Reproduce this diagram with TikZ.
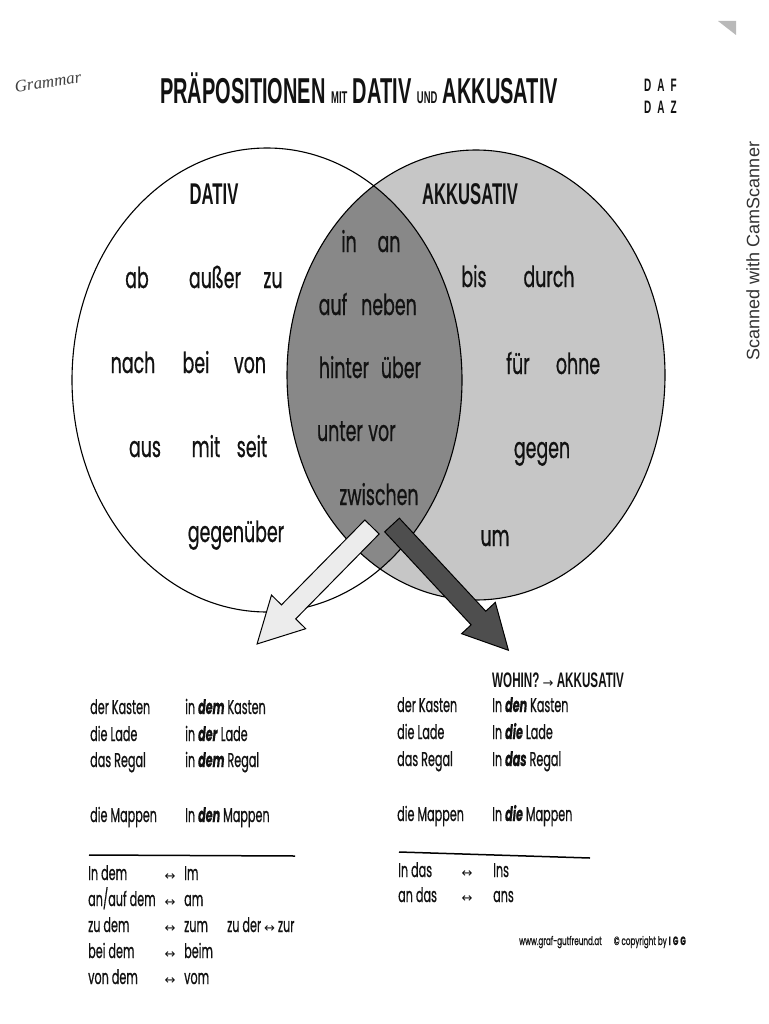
\documentclass[tikz,border=0pt]{standalone}
\usepackage{fontspec}
\setmainfont{Poppins}[FakeStretch=0.6, FakeBold=0.6]
\newfontfamily\tabfont{Poppins}[FakeStretch=0.56, FakeBold=0.6]
\newfontfamily\titlefont{Liberation Sans Bold}[FakeStretch=0.555]
\newfontfamily\symfont{DejaVu Sans}
\newfontfamily\scanfont{Liberation Sans}
\newfontfamily\handfont{Liberation Serif}
\definecolor{accfill}{RGB}{198,198,198}
\definecolor{bothfill}{RGB}{136,136,136}
\definecolor{lightarr}{RGB}{236,236,236}
\definecolor{darkarr}{RGB}{78,78,78}
\definecolor{ink}{RGB}{18,18,18}
\begin{document}
\begin{tikzpicture}[x=1pt,y=-1pt,
  word/.style={font=\fontsize{29}{32}\selectfont, inner sep=0pt, anchor=base, text=ink},
  vhead/.style={font=\titlefont\fontsize{30}{34}\selectfont, inner sep=0pt, anchor=base, text=ink},
  tab/.style={font=\tabfont\fontsize{20}{23}\selectfont, inner sep=0pt, anchor=base west, text=ink},
  sym/.style={font=\symfont\fontsize{13}{15}\selectfont, inner sep=0pt, anchor=base, text=ink},
  venn/.style={line width=1.1pt, draw=black},
  blockarrow/.style={draw=black, line width=1pt, line join=miter}
]
\useasboundingbox (0,0) rectangle (768,1024);
\fill[white] (0,0) rectangle (768,1024);
\fill[gray!55] (718,21) -- (736,21) -- (736,35) -- cycle;

% handwriting
\node[font=\handfont\itshape\fontsize{17}{20}\selectfont, text=black!75, rotate=8, inner sep=0pt] (hand) at (48,82) {Grammar};

% title
\node[font=\titlefont\fontsize{36}{40}\selectfont, inner sep=0pt, anchor=base west, text=ink] (title) at (160,104)
 {PRÄPOSITIONEN {\fontsize{17}{20}\selectfont MIT} DATIV {\fontsize{17}{20}\selectfont UND} AKKUSATIV};
\node[font=\titlefont\fontsize{18}{20}\selectfont, inner sep=0pt, anchor=base west, text=ink] (daf) at (644,92) {D\,\,A\,\,F};
\node[font=\titlefont\fontsize{18}{20}\selectfont, inner sep=0pt, anchor=base west, text=ink] (daz) at (644,114) {D\,\,A\,\,Z};

% scanner mark
\node[font=\scanfont\fontsize{18}{20}\selectfont, text=black!80, rotate=90, inner sep=0pt] (scan) at (753,251) {Scanned with CamScanner};

% Venn
\coordinate (dc) at (267,380);
\coordinate (ac) at (476,375);
\fill[accfill] (ac) ellipse [x radius=189, y radius=225];
\begin{scope}
  \clip (dc) ellipse [x radius=195, y radius=232];
  \fill[bothfill] (ac) ellipse [x radius=189, y radius=225];
\end{scope}
\draw[venn] (dc) ellipse [x radius=195, y radius=232];
\draw[venn] (ac) ellipse [x radius=189, y radius=225];

\node[vhead] (hdat) at (214,205) {DATIV};
\node[vhead] (hakk) at (470,205) {AKKUSATIV};

% Dativ words
\node[word] (ab) at (137,288) {ab};
\node[word] (ausser) at (215,288) {außer};
\node[word] (zu) at (273,288) {zu};
\node[word] (nach) at (133,373) {nach};
\node[word] (bei) at (196,373) {bei};
\node[word] (von) at (250,373) {von};
\node[word] (aus) at (145,457) {aus};
\node[word] (mit) at (206,457) {mit};
\node[word] (seit) at (252,457) {seit};
\node[word] (gegenueber) at (236,542) {gegenüber};

% both
\node[word] (in) at (349,252) {in};
\node[word] (an) at (389,252) {an};
\node[word] (auf) at (333,315) {auf};
\node[word] (neben) at (389,315) {neben};
\node[word] (hinter) at (344,378) {hinter};
\node[word] (ueber) at (401,378) {über};
\node[word] (unter) at (340,441) {unter};
\node[word] (vor) at (382,441) {vor};
\node[word] (zwischen) at (379,505) {zwischen};

% Akkusativ words
\node[word] (bis) at (474,287) {bis};
\node[word] (durch) at (549,287) {durch};
\node[word] (fuer) at (518,374) {für};
\node[word] (ohne) at (578,374) {ohne};
\node[word] (gegen) at (542,458) {gegen};
\node[word] (um) at (495,546) {um};

% block arrows
\coordinate (lightstart) at (372,527);
\coordinate (darkstart) at (392,525);
\begin{scope}[shift={(lightstart)}, rotate=225.5]
  \filldraw[blockarrow, fill=lightarr] (0,-10) -- (119,-10) -- (119,-24) -- (164,0) -- (119,24) -- (119,10) -- (0,10) -- cycle;
\end{scope}
\begin{scope}[shift={(darkstart)}, rotate=-47.1]
  \filldraw[blockarrow, fill=darkarr] (0,-10) -- (127,-10) -- (127,-23) -- (171,0) -- (127,23) -- (127,10) -- (0,10) -- cycle;
\end{scope}

% left table (Dativ)
\node[tab] (l1a) at (90,714) {der Kasten};
\node[tab] (l1b) at (185,714) {in \textbf{\textit{dem}} Kasten};
\node[tab] (l2a) at (90,741) {die Lade};
\node[tab] (l2b) at (185,741) {in \textbf{\textit{der}} Lade};
\node[tab] (l3a) at (90,767) {das Regal};
\node[tab] (l3b) at (185,767) {in \textbf{\textit{dem}} Regal};
\node[tab] (l4a) at (90,822) {die Mappen};
\node[tab] (l4b) at (185,822) {In \textbf{\textit{den}} Mappen};

% right table (Akkusativ)
\node[font=\titlefont\fontsize{21}{24}\selectfont, inner sep=0pt, anchor=base west, text=ink] (wohin) at (492,687)
  {WOHIN? {\symfont\fontsize{13}{15}\selectfont →} AKKUSATIV};
\node[tab] (r1a) at (397,712) {der Kasten};
\node[tab] (r1b) at (492,712) {In \textbf{\textit{den}} Kasten};
\node[tab] (r2a) at (397,739) {die Lade};
\node[tab] (r2b) at (492,739) {In \textbf{\textit{die}} Lade};
\node[tab] (r3a) at (397,766) {das Regal};
\node[tab] (r3b) at (492,766) {In \textbf{\textit{das}} Regal};
\node[tab] (r4a) at (397,821) {die Mappen};
\node[tab] (r4b) at (492,821) {In \textbf{\textit{die}} Mappen};

% rules
\coordinate (lrule1) at (89,855);
\coordinate (lrule2) at (295,856);
\coordinate (rrule1) at (399,852);
\coordinate (rrule2) at (590,858);
\draw[line width=1.5pt] (lrule1) -- (lrule2);
\draw[line width=1.5pt] (rrule1) -- (rrule2);

% contractions left
\node[tab] (c1a) at (88,880) {In dem};
\node[sym] (c1s) at (170,880) {↔};
\node[tab] (c1b) at (184,880) {Im};
\node[tab] (c2a) at (88,906) {an/auf dem};
\node[sym] (c2s) at (170,906) {↔};
\node[tab] (c2b) at (184,906) {am};
\node[tab] (c3a) at (88,932) {zu dem};
\node[sym] (c3s) at (170,932) {↔};
\node[tab] (c3b) at (184,932) {zum};
\node[tab] (c3c) at (227,932) {zu der {\symfont\fontsize{13}{15}\selectfont ↔} zur};
\node[tab] (c4a) at (88,958) {bei dem};
\node[sym] (c4s) at (170,958) {↔};
\node[tab] (c4b) at (184,958) {beim};
\node[tab] (c5a) at (88,984) {von dem};
\node[sym] (c5s) at (170,984) {↔};
\node[tab] (c5b) at (184,984) {vom};

% contractions right
\node[tab] (d1a) at (398,877) {In das};
\node[sym] (d1s) at (467,877) {↔};
\node[tab] (d1b) at (493,877) {Ins};
\node[tab] (d2a) at (398,902) {an das};
\node[sym] (d2s) at (467,902) {↔};
\node[tab] (d2b) at (493,902) {ans};

% footer
\node[font=\fontsize{12}{14}\selectfont, inner sep=0pt, anchor=base west, text=ink] (web) at (519,945)
  {www.graf-gutfreund.at\quad © copyright by \textbf{I\,G\,G}};
\end{tikzpicture}
\end{document}
